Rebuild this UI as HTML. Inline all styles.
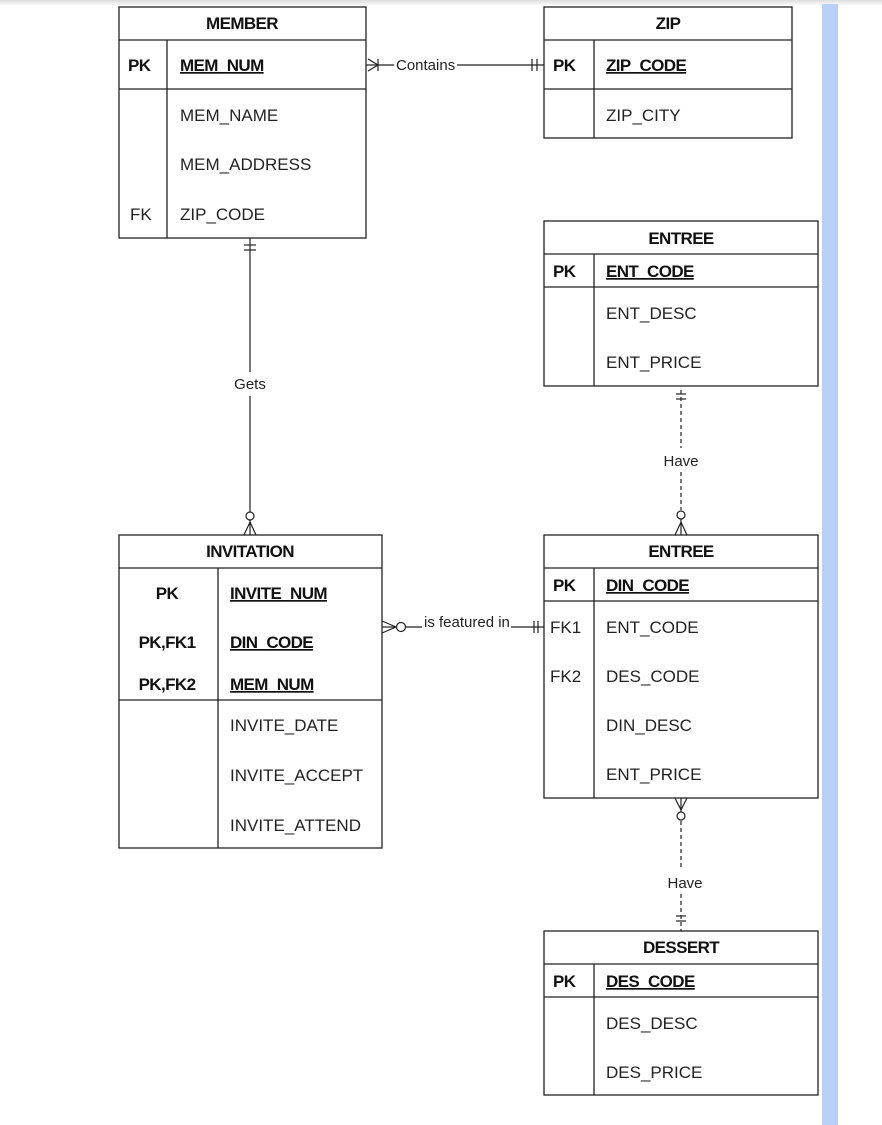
<!DOCTYPE html>
<html><head><meta charset="utf-8"><style>
html,body{margin:0;padding:0;background:#fff;width:882px;height:1125px;overflow:hidden}
svg{display:block}
text{font-family:"Liberation Sans",Arial,sans-serif;fill:#111}
.b{font-weight:bold;font-size:17px;letter-spacing:-0.6px}
.n{font-size:17px;fill:#222}
.l{font-size:15px;fill:#222}
</style></head><body>
<svg width="882" height="1125" viewBox="0 0 882 1125">
<defs><linearGradient id="g" x1="0" y1="0" x2="0" y2="1"><stop offset="0" stop-color="#dcdcdc"/><stop offset="1" stop-color="#fff"/></linearGradient></defs>
<rect x="0" y="0" width="882" height="6" fill="url(#g)"/>
<rect x="822" y="4" width="16" height="1121" fill="#b8cff7"/>
<g fill="#fff" stroke="#222" stroke-width="1.3">
<rect x="119" y="7" width="247" height="231"/>
<line x1="119" y1="40" x2="366" y2="40"/><line x1="119" y1="89" x2="366" y2="89"/><line x1="167" y1="40" x2="167" y2="238"/>
<rect x="544" y="7" width="248" height="131"/>
<line x1="544" y1="40" x2="792" y2="40"/><line x1="544" y1="89" x2="792" y2="89"/><line x1="594" y1="40" x2="594" y2="138"/>
<rect x="544" y="221" width="274" height="165"/>
<line x1="544" y1="254" x2="818" y2="254"/><line x1="544" y1="287" x2="818" y2="287"/><line x1="594" y1="254" x2="594" y2="386"/>
<rect x="119" y="535" width="263" height="313"/>
<line x1="119" y1="568" x2="382" y2="568"/><line x1="119" y1="700" x2="382" y2="700"/><line x1="218" y1="568" x2="218" y2="848"/>
<rect x="544" y="535" width="274" height="263"/>
<line x1="544" y1="568" x2="818" y2="568"/><line x1="544" y1="601" x2="818" y2="601"/><line x1="594" y1="568" x2="594" y2="798"/>
<rect x="544" y="931" width="274" height="164"/>
<line x1="544" y1="964" x2="818" y2="964"/><line x1="544" y1="997" x2="818" y2="997"/><line x1="594" y1="964" x2="594" y2="1095"/>
</g>
<g stroke="#222" stroke-width="1.2" fill="none">
<line x1="366" y1="65" x2="394" y2="65"/><line x1="457" y1="65" x2="544" y2="65"/>
<path d="M368 59 L378 65 L368 71"/><line x1="378" y1="59" x2="378" y2="71"/>
<line x1="532" y1="59" x2="532" y2="71"/><line x1="537" y1="59" x2="537" y2="71"/>
<line x1="250" y1="238" x2="250" y2="372"/><line x1="250" y1="396" x2="250" y2="512"/>
<line x1="244" y1="245" x2="256" y2="245"/><line x1="244" y1="250" x2="256" y2="250"/>
<circle cx="250" cy="516" r="4" fill="#fff"/>
<path d="M244 535 L250 522 L256 535"/><line x1="250" y1="520" x2="250" y2="535"/>
<path d="M382 621 L396 627 L382 633"/><line x1="382" y1="627" x2="396" y2="627"/>
<circle cx="401" cy="627" r="4.5" fill="#fff"/>
<line x1="405" y1="627" x2="422" y2="627"/><line x1="511" y1="627" x2="544" y2="627"/>
<line x1="534" y1="621" x2="534" y2="633"/><line x1="538" y1="621" x2="538" y2="633"/>
<line x1="681" y1="390" x2="681" y2="448" stroke-dasharray="4,3"/>
<line x1="681" y1="472" x2="681" y2="510" stroke-dasharray="4,3"/>
<line x1="676" y1="394" x2="686" y2="394"/><line x1="676" y1="399" x2="686" y2="399"/>
<circle cx="681" cy="515" r="4" fill="#fff"/>
<path d="M675 535 L681 522 L687 535"/><line x1="681" y1="519" x2="681" y2="535"/>
<path d="M675 798 L681 810 L687 798"/><line x1="681" y1="798" x2="681" y2="812"/>
<circle cx="681" cy="816" r="4" fill="#fff"/>
<line x1="681" y1="821" x2="681" y2="870" stroke-dasharray="4,3"/>
<line x1="681" y1="894" x2="681" y2="931" stroke-dasharray="4,3"/>
<line x1="676" y1="916" x2="686" y2="916"/><line x1="676" y1="921" x2="686" y2="921"/>
</g>
<text class="l" x="396" y="70">Contains</text>
<text class="l" x="250" y="389" text-anchor="middle">Gets</text>
<text class="l" x="424" y="627">is featured in</text>
<text class="l" x="681" y="466" text-anchor="middle">Have</text>
<text class="l" x="685" y="888" text-anchor="middle">Have</text>
<text class="b" x="242" y="29" text-anchor="middle">MEMBER</text>
<text class="b" x="128" y="71">PK</text>
<text class="b" x="180" y="71" text-decoration="underline">MEM_NUM</text>
<text class="n" x="180" y="121">MEM_NAME</text>
<text class="n" x="180" y="170">MEM_ADDRESS</text>
<text class="n" x="130" y="220">FK</text>
<text class="n" x="180" y="220">ZIP_CODE</text>
<text class="b" x="668" y="29" text-anchor="middle">ZIP</text>
<text class="b" x="553" y="71">PK</text>
<text class="b" x="606" y="71" text-decoration="underline">ZIP_CODE</text>
<text class="n" x="606" y="121">ZIP_CITY</text>
<text class="b" x="681" y="244" text-anchor="middle">ENTREE</text>
<text class="b" x="553" y="277">PK</text>
<text class="b" x="606" y="277" text-decoration="underline">ENT_CODE</text>
<text class="n" x="606" y="319">ENT_DESC</text>
<text class="n" x="606" y="368">ENT_PRICE</text>
<text class="b" x="250" y="557" text-anchor="middle">INVITATION</text>
<text class="b" x="167" y="599" text-anchor="middle">PK</text>
<text class="b" x="167" y="648" text-anchor="middle">PK,FK1</text>
<text class="b" x="167" y="690" text-anchor="middle">PK,FK2</text>
<text class="b" x="230" y="599" text-decoration="underline">INVITE_NUM</text>
<text class="b" x="230" y="648" text-decoration="underline">DIN_CODE</text>
<text class="b" x="230" y="690" text-decoration="underline">MEM_NUM</text>
<text class="n" x="230" y="731">INVITE_DATE</text>
<text class="n" x="230" y="781">INVITE_ACCEPT</text>
<text class="n" x="230" y="831">INVITE_ATTEND</text>
<text class="b" x="681" y="557" text-anchor="middle">ENTREE</text>
<text class="b" x="553" y="591">PK</text>
<text class="b" x="606" y="591" text-decoration="underline">DIN_CODE</text>
<text class="n" x="550" y="633">FK1</text>
<text class="n" x="606" y="633">ENT_CODE</text>
<text class="n" x="550" y="682">FK2</text>
<text class="n" x="606" y="682">DES_CODE</text>
<text class="n" x="606" y="731">DIN_DESC</text>
<text class="n" x="606" y="780">ENT_PRICE</text>
<text class="b" x="681" y="953" text-anchor="middle">DESSERT</text>
<text class="b" x="553" y="987">PK</text>
<text class="b" x="606" y="987" text-decoration="underline">DES_CODE</text>
<text class="n" x="606" y="1029">DES_DESC</text>
<text class="n" x="606" y="1078">DES_PRICE</text>
</svg>
</body></html>
